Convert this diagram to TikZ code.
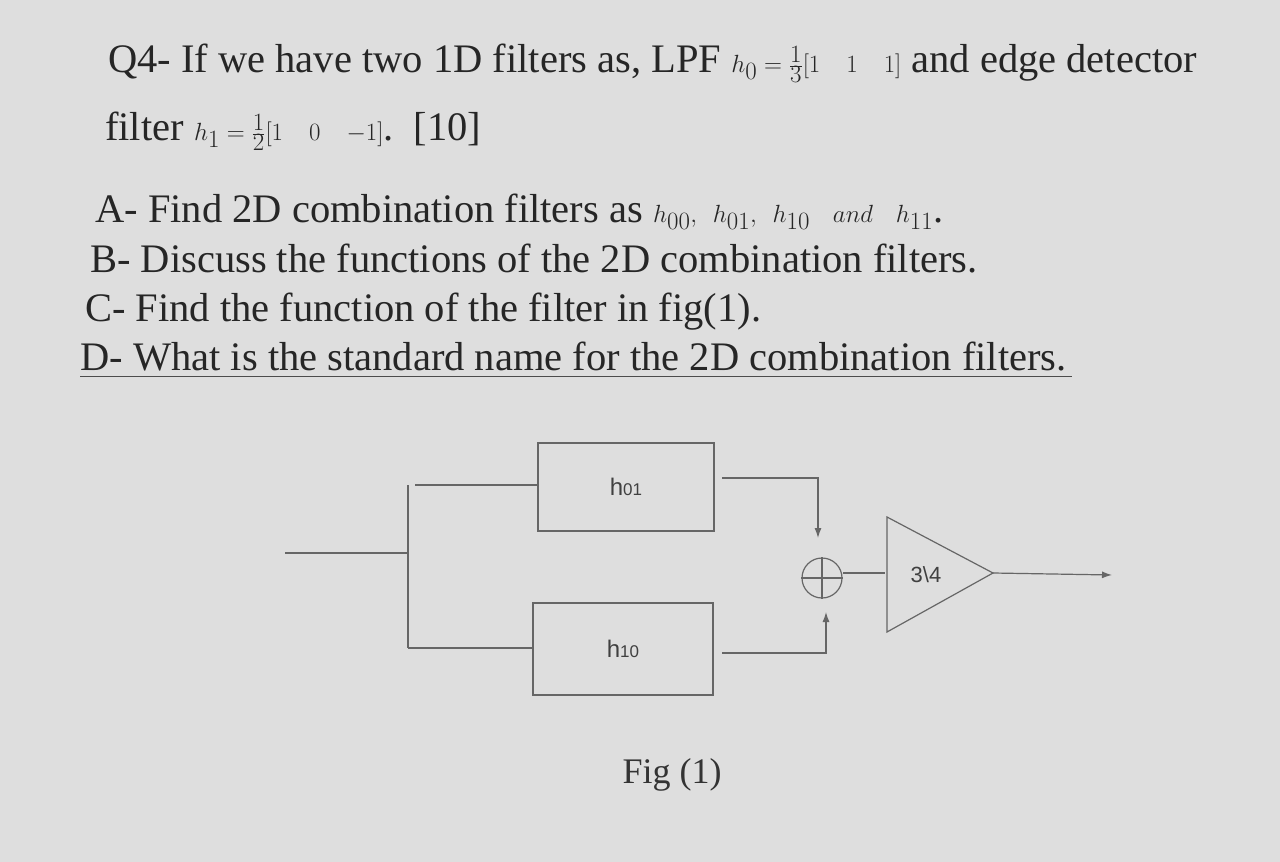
\documentclass[tikz,border=0pt]{standalone}
\usepackage{fontspec}
\setmainfont{Liberation Serif}
\newfontfamily\diag{Liberation Sans}
\usetikzlibrary{arrows.meta}
\newcommand{\qmath}[1]{{\fontsize{46}{50}\selectfont$#1$}}
\newcommand{\gp}{\hspace{26pt}}
\begin{document}
\begin{tikzpicture}[x=1pt,y=-1pt,
  txt/.style={anchor=base west,inner sep=0pt,font=\fontsize{40.5}{44}\selectfont,text=black!85},
  blk/.style={draw=black!60,line width=1.2pt,minimum width=176pt,minimum height=88pt,font=\diag\fontsize{24}{28}\selectfont,text=black!75},
  wire/.style={draw=black!60,line width=1.2pt},
  arr/.style={wire,-{Latex[length=10pt,width=7pt]}}]
\fill[black!13] (0,0) rectangle (1280,862);
\useasboundingbox (0,0) rectangle (1280,862);
\node[txt] (l1) at (108,72) {Q4- If we have two 1D filters as, LPF \qmath{h_0=\frac{1}{3}[1\gp 1\gp 1]} and edge detector};
\node[txt] (l2) at (105,140) {filter \qmath{h_1=\frac{1}{2}[1\gp 0\gp {-}1]}.\ \ [10]};
\node[txt] (la) at (95,222) {A- Find 2D combination filters as \qmath{h_{00},\ h_{01},\ h_{10}\ \ and\ \ h_{11}}.};
\node[txt] (lb) at (90,272) {B- Discuss the functions of the 2D combination filters.};
\node[txt] (lc) at (85,321) {C- Find the function of the filter in fig(1).};
\node[txt] (ld) at (80,370) {D- What is the standard name for the 2D combination filters.};
\draw[black!70,line width=1pt] (80,376) -- (1072,376);
\node[blk] (b1) at (626,487) {h{\fontsize{17}{20}\selectfont 01}};
\node[blk,minimum width=180pt,minimum height=92pt] (b2) at (623,649) {h{\fontsize{17}{20}\selectfont 10}};
\coordinate (in) at (285,553);
\coordinate (sp) at (408,553);
\draw[wire] (in) -- (sp);
\draw[wire] (408,485) -- (408,648);
\draw[wire] (415,485) -- (b1.west|-0,485);
\draw[wire] (408,648) -- (b2.west|-0,648);
\node[draw=black!60,line width=1.2pt,circle,minimum size=40pt,inner sep=0pt] (sum) at (822,578) {};
\draw[black!60,line width=1.2pt] (sum.north)--(sum.south) (sum.west)--(sum.east);
\draw[arr] (722,478) -- (818,478) -- (818,538);
\draw[arr] (722,653) -- (826,653) -- (826,612);
\coordinate (apex) at (993,573);
\draw[wire,line join=miter] (887,517) -- (apex) -- (887,632) -- cycle;
\node[font=\diag\fontsize{22}{26}\selectfont,text=black!75] (g) at (926,575) {3\textbackslash 4};
\draw[wire] (843,573) -- (885,573);
\draw[arr] (apex) -- (1112,575);
\node[font=\fontsize{36}{42}\selectfont,text=black!80] (fig) at (672,775) {Fig (1)};
\end{tikzpicture}
\end{document}
